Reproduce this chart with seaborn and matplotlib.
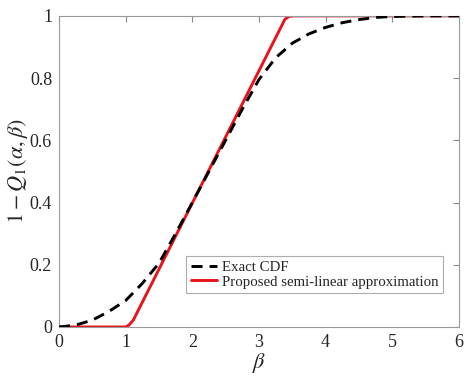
import numpy as np
import pandas as pd
import matplotlib
matplotlib.use("Agg")
import matplotlib.pyplot as plt
import seaborn as sns

# exact CDF
beta_exact = [0.0, 0.25, 0.5, 0.75, 1.0, 1.25, 1.5, 1.75, 2.0, 2.25, 2.5, 2.75,
              3.0, 3.25, 3.5, 3.75, 4.0, 4.25, 4.5, 4.75, 5.0, 5.5, 6.0]
cdf_exact = [0.0, 0.006, 0.022, 0.05, 0.085, 0.14, 0.205, 0.30, 0.40, 0.50, 0.60, 0.70,
             0.795, 0.865, 0.912, 0.942, 0.963, 0.978, 0.988, 0.995, 0.998, 1.0, 1.0]

# semi-linear approximation
beta_approx = [0.0, 1.0, 1.05, 1.115, 3.39, 3.45, 3.52, 6.0]
cdf_approx = [0.0, 0.0, 0.006, 0.022, 0.989, 0.998, 1.0, 1.0]

sns.set_style("white")
plt.rcParams['font.family'] = ['Liberation Serif', 'DejaVu Serif']
plt.rcParams['mathtext.fontset'] = 'stix'

df_exact = pd.DataFrame({'beta': beta_exact, 'cdf': cdf_exact})
df_approx = pd.DataFrame({'beta': beta_approx, 'cdf': cdf_approx})

fig = plt.figure(figsize=(4.74, 3.78), dpi=100)
ax = fig.add_axes([0.1245, 0.135, 0.8435, 0.823])

sns.lineplot(data=df_exact, x='beta', y='cdf', ax=ax, color='black', lw=2.1,
             label='Exact CDF', zorder=3)
ax.lines[-1].set_dashes([3.8, 2.4])
sns.lineplot(data=df_approx, x='beta', y='cdf', ax=ax, color='#e8141c', lw=2.1,
             label='Proposed semi-linear approximation', zorder=2)

ax.set_xlim(0, 6)
ax.set_ylim(0, 1)
ax.set_xticks(range(7))
ax.set_yticks([0, 0.2, 0.4, 0.6, 0.8, 1])
ax.set_yticklabels(['0', '0.2', '0.4', '0.6', '0.8', '1'])
ax.tick_params(direction='in', length=4, color='#888888', labelsize=13,
               top=True, right=True, pad=5)
for s in ax.spines.values():
    s.set_color('#999999')
    s.set_linewidth(0.8)

ax.set_xlabel(r'$\beta$', fontsize=16, labelpad=0)
ax.set_ylabel(r'$1-Q_1(\alpha,\beta)$', fontsize=16, labelpad=0)

leg = ax.legend(loc='lower right', bbox_to_anchor=(0.96, 0.109), fontsize=10.7,
                frameon=True, fancybox=False, handlelength=1.8, handletextpad=0.3,
                borderpad=0.3, labelspacing=0.1, borderaxespad=0)
leg.get_frame().set_edgecolor('#999999')
leg.get_frame().set_linewidth(0.8)
for h in leg.get_lines():
    h.set_linewidth(2.1)

fig.savefig('out.png', dpi=100)
